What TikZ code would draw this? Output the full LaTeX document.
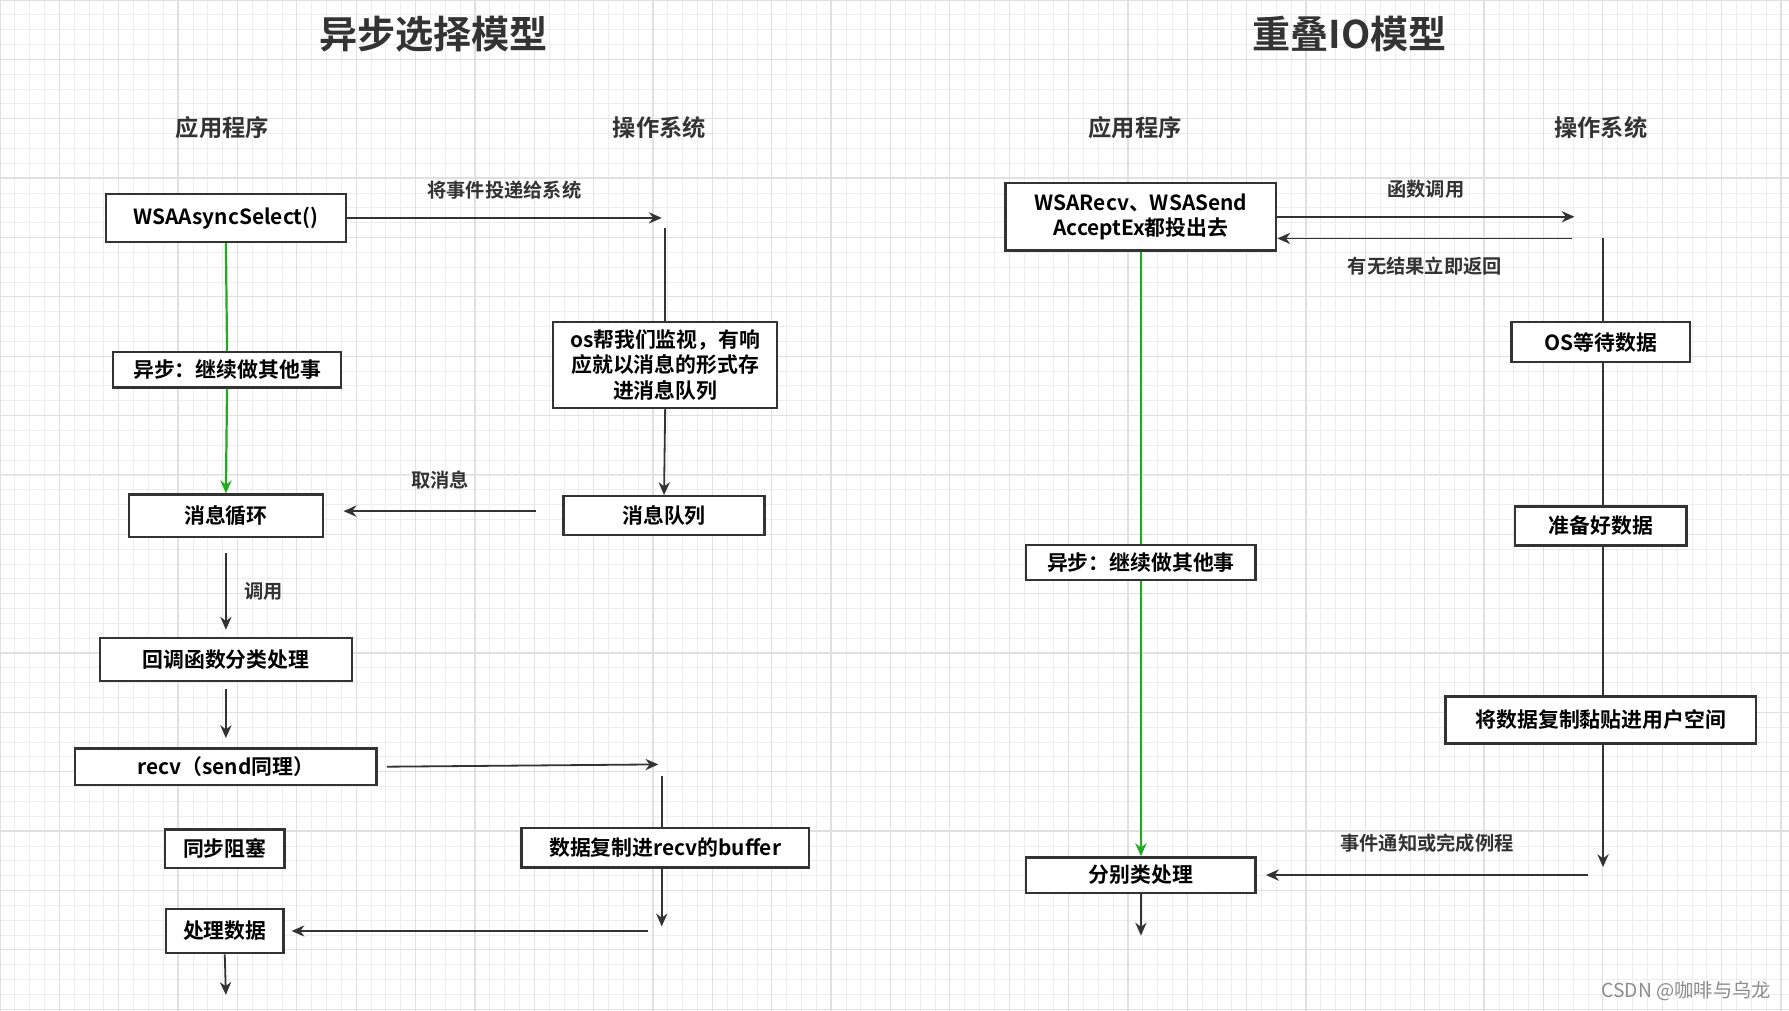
\documentclass[tikz,border=0pt]{standalone}
\usepackage{fontspec}
\setmainfont{Noto Sans CJK SC}[BoldFont={Noto Sans CJK SC Bold}]
\usetikzlibrary{arrows.meta}
\definecolor{ln}{HTML}{333333}
\definecolor{gr}{HTML}{22AA22}
\tikzset{
  box/.style={draw=ln, line width=0.6pt, fill=white, inner sep=0pt, font=\fontsize{5.2}{6.4}\selectfont\bfseries, align=center},
  arr/.style={draw=ln, line width=0.45pt, -{Stealth[length=3.2pt,width=2.8pt]}},
  lin/.style={draw=ln, line width=0.45pt},
  garr/.style={draw=gr, line width=0.55pt, -{Stealth[length=3.2pt,width=2.8pt]}},
  glin/.style={draw=gr, line width=0.55pt},
  lbl/.style={font=\fontsize{4.8}{6}\selectfont\bfseries, text=ln},
  head/.style={font=\fontsize{5.8}{7}\selectfont\bfseries, text=ln},
  ttl/.style={font=\fontsize{9.5}{11}\selectfont\bfseries, text=ln}
}
\begin{document}
\begin{tikzpicture}[x=0.01cm, y=-0.01cm]
  % Background grid
  \fill[white] (0,0) rectangle (1568,886);
  \useasboundingbox (0,0) rectangle (1568,886);
  \draw[black!7, line width=0.2pt, step=0.13cm] (0,0) grid (1568,886);
  \draw[black!12, line width=0.3pt, step=0.52cm] (0,0) grid (1568,886);

  % Titles
  \node[ttl] (t1) at (380,30) {异步选择模型};
  \node[ttl] (t2) at (1183,30) {重叠IO模型};
  \node[head] (h1) at (195,112) {应用程序};
  \node[head] (h2) at (578,112) {操作系统};
  \node[head] (h3) at (995,112) {应用程序};
  \node[head] (h4) at (1403,112) {操作系统};

  % Left: async select
  \node[box, minimum width=2.10cm, minimum height=0.42cm] (wsa) at (198,191) {WSAAsyncSelect()};
  \node[box, minimum width=2.00cm, minimum height=0.31cm] (asy) at (199,324) {异步：继续做其他事};
  \node[box, minimum width=1.70cm, minimum height=0.37cm] (loop) at (198,452) {消息循环};
  \node[box, minimum width=2.21cm, minimum height=0.38cm] (cb) at (198,578) {回调函数分类处理};
  \node[box, minimum width=2.64cm, minimum height=0.32cm] (recv) at (198,672) {recv（send同理）};
  \node[box, minimum width=1.05cm, minimum height=0.34cm] (blk) at (197,744) {同步阻塞};
  \node[box, minimum width=1.03cm, minimum height=0.39cm] (proc) at (197,816) {处理数据};
  \node[box, minimum width=1.96cm, minimum height=0.75cm] (os) at (583,320) {os帮我们监视，有响\\应就以消息的形式存\\进消息队列};
  \node[box, minimum width=1.76cm, minimum height=0.34cm] (que) at (582,452) {消息队列};
  \node[box, minimum width=2.52cm, minimum height=0.35cm] (buf) at (583,743) {数据复制进recv的buffer};

  \coordinate (a1) at (580,191);
  \coordinate (a2) at (583,200);
  \coordinate (a3) at (470,448);
  \coordinate (a4) at (577,670);
  \coordinate (a5) at (580,680);
  \coordinate (a6) at (568,816);
  \coordinate (a7) at (198,872);
  \draw[arr] (wsa.east) -- (a1) node[lbl, midway, above=1pt] {将事件投递给系统};
  \draw[lin] (a2) -- (os.north);
  \draw[arr] (os.south) -- (que.north);
  \draw[glin] (wsa.south) -- (asy.north);
  \draw[garr] (asy.south) -- (loop.north);
  \draw[arr] (a3) -- ([xshift=0.17cm]loop.east |- a3) node[lbl, midway, above=2pt] {取消息};
  \draw[arr] ([yshift=-0.13cm]loop.south) -- ([yshift=0.06cm]cb.north) node[lbl, midway, right=1pt] {调用};
  \draw[arr] ([yshift=-0.06cm]cb.south) -- ([yshift=0.08cm]recv.north);
  \draw[arr] ([xshift=0.08cm]recv.east) -- (a4);
  \draw[lin] (a5) -- (buf.north -| a5);
  \draw[arr] (buf.south -| a5) -- ([yshift=0.04cm]a5 |- a6);
  \draw[arr] (a6) -- ([xshift=0.06cm]proc.east);
  \draw[arr] (proc.south) -- (a7);

  % Right: overlapped IO
  \node[box, minimum width=2.37cm, minimum height=0.59cm] (wsr) at (1000,190) {WSARecv、WSASend\\AcceptEx都投出去};
  \node[box, minimum width=2.01cm, minimum height=0.31cm] (asy2) at (1000,493) {异步：继续做其他事};
  \node[box, minimum width=2.01cm, minimum height=0.31cm] (dsp) at (1000,767) {分别类处理};
  \node[box, minimum width=1.56cm, minimum height=0.35cm] (wait) at (1403,300) {OS等待数据};
  \node[box, minimum width=1.50cm, minimum height=0.34cm] (rdy) at (1403,461) {准备好数据};
  \node[box, minimum width=2.72cm, minimum height=0.41cm] (cpy) at (1403,631) {将数据复制黏贴进用户空间};

  \coordinate (b1) at (1380,190);
  \coordinate (b2) at (1378,209);
  \coordinate (b3) at (1405,209);
  \coordinate (b4) at (1405,760);
  \coordinate (b5) at (1392,767);
  \coordinate (b6) at (1000,820);
  \draw[arr] (wsr.east) -- (b1) node[lbl, midway, above=1pt] {函数调用};
  \draw[arr] (b2) -- (wsr.east |- b2) node[lbl, midway, below=1pt] {有无结果立即返回};
  \draw[lin] (b3) -- (wait.north -| b3);
  \draw[lin] (wait.south -| b3) -- (rdy.north -| b3);
  \draw[lin] (rdy.south -| b3) -- (cpy.north -| b3);
  \draw[arr] (cpy.south -| b3) -- (b4);
  \draw[glin] (wsr.south) -- (asy2.north);
  \draw[garr] (asy2.south) -- (dsp.north);
  \draw[arr] (b5) -- ([xshift=0.08cm]dsp.east) node[lbl, midway, above=2pt] {事件通知或完成例程};
  \draw[arr] (dsp.south) -- (b6);

  % Watermark
  \node[font=\fontsize{4.8}{6}\selectfont, text=black!45] (wm) at (1478,869) {CSDN @咖啡与乌龙};
\end{tikzpicture}
\end{document}
